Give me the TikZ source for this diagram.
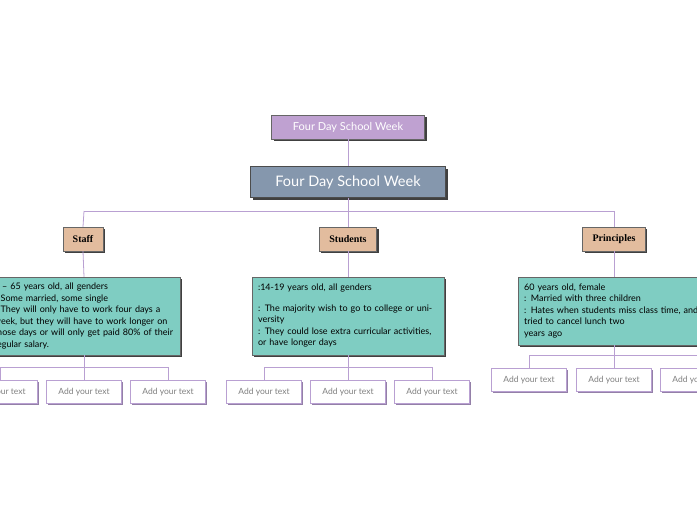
\documentclass[tikz,border=0pt]{standalone}
\usepackage{fontspec}
\setmainfont{Lato}
\newfontfamily\hfont{Liberation Serif}
\usetikzlibrary{shadows}
\definecolor{lnc}{HTML}{B9A0D2}
\definecolor{topc}{HTML}{BFA1D1}
\definecolor{mainc}{HTML}{8597AD}
\definecolor{tanc}{HTML}{E2BC9E}
\definecolor{tealc}{HTML}{7FCDC2}
\begin{document}
\begin{tikzpicture}[x=1pt,y=-1pt,
 sh/.style={drop shadow={shadow xshift=2pt,shadow yshift=-2pt,fill=black!75,opacity=1}},
 topbox/.style={draw=black!60,fill=topc,text=white,minimum width=153pt,minimum height=24pt,font=\fontsize{11}{13}\selectfont,sh},
 mainbox/.style={draw=black!70,fill=mainc,text=white,minimum width=195pt,minimum height=31pt,font=\fontsize{14.5}{16}\selectfont,sh},
 catbox/.style={draw=black!60,fill=tanc,minimum height=24pt,inner xsep=10pt,font=\hfont\bfseries\fontsize{10}{12}\selectfont,sh},
 infobox/.style={draw=black!60,fill=tealc,text width=180pt,inner xsep=6pt,inner ysep=4pt,align=left,font=\fontsize{9}{11.5}\selectfont,sh},
 addbox/.style={draw=lnc,fill=white,text=black!50,minimum width=75pt,minimum height=23pt,font=\fontsize{8.5}{10}\selectfont,drop shadow={shadow xshift=1.5pt,shadow yshift=-1.5pt,fill=lnc!80!black,opacity=1}},
 ln/.style={draw=lnc,line width=0.8pt}]
\useasboundingbox (0,0) rectangle (697,520);
\node[topbox] (top) at (348,127) {Four Day School Week};
\node[mainbox] (main) at (348,182) {Four Day School Week};
\node[catbox] (staff) at (83,239) {Staff};
\node[catbox] (stud) at (348,239) {Students};
\node[catbox] (prin) at (614,239) {Principles};
\node[infobox,minimum height=78pt] (si) at (84,316) {5 -- 65 years old, all genders\\: Some married, some single\\: They will only have to work four days a week, but they will have to work longer on those days or will only get paid 80\% of their regular salary.};
\node[infobox,minimum height=78pt] (ti) at (348,316) {:14-19 years old, all genders\\[9pt]: The majority wish to go to college or university\\: They could lose extra curricular activities, or have longer days};
\node[infobox,minimum height=68pt,anchor=west,text width=185pt] (pi) at (518,311) {60 years old, female\\: Married with three children\\: Hates when students miss class time, and tried to cancel lunch two\\years ago};
\foreach \n/\x/\y in {s1/0/392,s2/84/392,s3/168/392,t1/264/392,t2/348/392,t3/432/392,p1/529/380,p2/614/380,p3/698/380}
  \node[addbox] (\n) at (\x,\y) {Add your text};
\draw[ln] (top.south) -- (main.north);
\coordinate (hl) at (84,211); \coordinate (hr) at (614,211); \coordinate (hm) at (348,211);
\draw[ln] (main.south) -- (hm);
\draw[ln] (hl) -- (hr);
\draw[ln] (hl) -- (staff.north); \draw[ln] (hr) -- (prin.north); \draw[ln] (hm) -- (stud.north);
\draw[ln] (staff.south) -- (si.north); \draw[ln] (stud.south) -- (ti.north); \draw[ln] (prin.south) -- (614,277);
\coordinate (sj) at (0,367); \coordinate (tj) at (264,367); \coordinate (pj) at (529,355);
\draw[ln] (si.south) -- (s2.north); \draw[ln] (sj) -| (s1.north); \draw[ln] (sj) -| (s3.north);
\draw[ln] (ti.south) -- (t2.north); \draw[ln] (tj) -| (t1.north); \draw[ln] (tj) -| (t3.north);
\draw[ln] (614,345) -- (p2.north); \draw[ln] (pj) -| (p1.north); \draw[ln] (pj) -| (p3.north);
\end{tikzpicture}
\end{document}
